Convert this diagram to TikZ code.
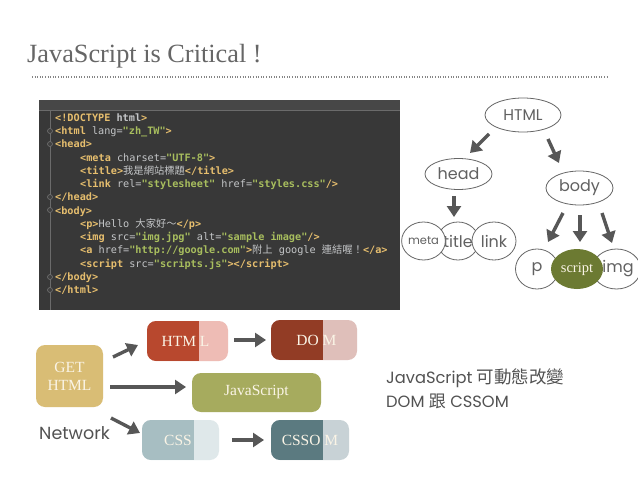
\documentclass[tikz,border=0pt]{standalone}
\usepackage{fontspec}
\usetikzlibrary{shapes.geometric,arrows.meta,calc}
\setmainfont{Liberation Serif}
\newfontfamily\geo{Poppins}
\newfontfamily\codef{DejaVu Sans Mono}
\newfontfamily\cjk{Noto Sans CJK TC}
\newcommand\pxs[1]{\fontsize{#1}{#1}\selectfont}
\definecolor{tagc}{HTML}{E6BE6E}
\definecolor{valc}{HTML}{A8BE5E}
\definecolor{txtc}{HTML}{C4C6C8}
\definecolor{olive}{RGB}{108,122,50}
\definecolor{getc}{RGB}{217,189,117}
\definecolor{htmD}{RGB}{184,72,46}
\definecolor{htmL}{RGB}{238,188,181}
\definecolor{domD}{RGB}{146,60,37}
\definecolor{domL}{RGB}{223,191,186}
\definecolor{jsc}{RGB}{166,171,94}
\definecolor{cssD}{RGB}{167,190,194}
\definecolor{cssL}{RGB}{223,232,234}
\definecolor{comD}{RGB}{91,122,128}
\definecolor{comL}{RGB}{200,210,214}
\definecolor{lbl}{RGB}{250,244,230}
\newcommand\tg[1]{\textcolor{tagc}{\bfseries #1}}
\newcommand\vl[1]{\textcolor{valc}{\bfseries #1}}
\newcommand\zh[1]{{\cjk\pxs{10.3}#1}}
\tikzset{
  arr/.style={draw=black!66,line width=3.4pt,-{Triangle[length=11pt,width=14pt]}},
  treenode/.style={ellipse,draw=black!60,line width=0.8pt,fill=white,inner sep=0pt,text=black!62,font=\geo\pxs{15.5}},
  box/.style={rounded corners=9pt,inner sep=0pt,text=lbl,font=\pxs{15.5},align=center},
  split/.style n args={2}{path picture={\fill[#2,sharp corners] (path picture bounding box.north west) rectangle ($(path picture bounding box.south west)+(#1,0)$);}},
  codeline/.style={anchor=base west,inner sep=0pt,text=txtc,font=\codef\pxs{10.2}},
  fold/.style={circle,draw=black!55,line width=0.6pt,fill=black!75,minimum size=5pt,inner sep=0pt},
}
\begin{document}
\begin{tikzpicture}[x=1pt,y=-1pt]
\useasboundingbox[fill=white] (0,0) rectangle (638,479);
% title
\node[anchor=base west,inner sep=0pt,text=black!60,font=\pxs{26.3}] (ttl) at (27,62.5) {JavaScript is Critical !};
\coordinate (ruleA) at (32,77);
\coordinate (ruleB) at (607,77);
\draw[black!48,line width=1.1pt,dash pattern=on 1pt off 1.6pt] (ruleA) -- (ruleB);
% code panel
\fill[black!78] (39,100) rectangle (400,310);
\fill[black!72] (39,100) rectangle (400,110);
\draw[black!58,line width=0.6pt] (39,110.5) -- (400,110.5);
\draw[black!58,line width=0.8pt] (50,110.5) -- (50,310);
\node[fold] (f1) at (50,131) {};
\node[fold] (f2) at (50,144) {};
\node[fold] (f3) at (50,197) {};
\node[fold] (f4) at (50,210) {};
\node[fold] (f5) at (50,277) {};
\node[fold] (f6) at (50,290) {};
\node[codeline] (c1) at (55,121) {\tg{<!DOCTYPE} \textcolor{txtc}{\bfseries html}\tg{>}};
\node[codeline] (c2) at (55,134.5) {\tg{<html} lang=\vl{"zh\_TW"}\tg{>}};
\node[codeline] (c3) at (55,147.7) {\tg{<head>}};
\node[codeline] (c4) at (80,161) {\tg{<meta} charset=\vl{"UTF-8"}\tg{>}};
\node[codeline] (c5) at (80,174.2) {\tg{<title>}\zh{我是網站標題}\tg{</title>}};
\node[codeline] (c6) at (80,187.5) {\tg{<link} rel=\vl{"stylesheet"} href=\vl{"styles.css"}\tg{/>}};
\node[codeline] (c7) at (55,200.7) {\tg{</head>}};
\node[codeline] (c8) at (55,214) {\tg{<body>}};
\node[codeline] (c9) at (80,227.2) {\tg{<p>}Hello \zh{大家好～}\tg{</p>}};
\node[codeline] (c10) at (80,240.5) {\tg{<img} src=\vl{"img.jpg"} alt=\vl{"sample image"}\tg{/>}};
\node[codeline] (c11) at (80,253.7) {\tg{<a} href=\vl{"http://google.com"}\tg{>}\zh{附上} google \zh{連結喔！}\tg{</a>}};
\node[codeline] (c12) at (80,267) {\tg{<script} src=\vl{"scripts.js"}\tg{></script>}};
\node[codeline] (c13) at (55,280.2) {\tg{</body>}};
\node[codeline] (c14) at (55,293.5) {\tg{</html>}};
% tree
\node[treenode,minimum width=76pt,minimum height=34pt] (html) at (523,115) {HTML};
\node[treenode,minimum width=67pt,minimum height=31pt,font=\geo\pxs{16}] (head) at (458.5,174) {head};
\node[treenode,minimum width=67pt,minimum height=34pt,font=\geo\pxs{16}] (body) at (579.5,188) {body};
\node[treenode,minimum width=40pt,minimum height=38pt,font=\geo\pxs{16}] (titlen) at (458,241) {title};
\node[treenode,minimum width=43pt,minimum height=38pt,font=\geo\pxs{11.5}] (meta) at (423.5,241) {meta};
\node[treenode,minimum width=44pt,minimum height=38pt,font=\geo\pxs{16}] (link) at (494,241) {link};
\node[treenode,minimum width=43pt,minimum height=40pt,font=\geo\pxs{16}] (p) at (537,269) {p};
\node[treenode,minimum width=43pt,minimum height=40pt,font=\geo\pxs{16}] (img) at (616.5,269) {\kern3pt img};
\node[ellipse,inner sep=0pt,minimum width=52pt,minimum height=40pt,fill=olive,text=lbl,font=\pxs{14.5}] (script) at (577,269) {script};
\draw[arr] ($(html)+(-34,19)$) -- ($(head)+(11.5,-21)$);
\draw[arr] ($(html)+(25,24)$) -- ($(body)+(-20.5,-25)$);
\draw[arr] ($(head)+(-4.5,22)$) -- ($(titlen)+(-4,-24)$);
\draw[arr] ($(body)+(-16.5,25)$) -- ($(p)+(11,-27)$);
\draw[arr] ($(body)+(0.5,27)$) -- ($(script)+(3,-27)$);
\draw[arr] ($(body)+(22.5,25)$) -- ($(img)+(-4.5,-26)$);
% pipeline
\node[box,minimum width=67pt,minimum height=62pt,fill=getc] (get) at (69.5,376) {GET\\[2.5pt]HTML};
\node[box,minimum width=81pt,minimum height=40pt,fill=htmL,split={52pt}{htmD}] (htmlb) at (187.5,341) {\kern-4pt HTM L};
\node[box,minimum width=86pt,minimum height=40pt,fill=domL,split={52pt}{domD}] (dom) at (314,340) {\kern5pt DO M};
\node[box,minimum width=129pt,minimum height=39pt,fill=jsc] (js) at (256.5,392.5) {JavaScript};
\node[box,minimum width=77pt,minimum height=40pt,fill=cssL,split={52pt}{cssD}] (css) at (180.5,440) {\kern-5pt CSS};
\node[box,minimum width=78pt,minimum height=40pt,fill=comL,split={52pt}{comD}] (cssom) at (310,440) {CSSO M};
\draw[arr] ($(get)+(43.5,-19)$) -- ($(htmlb)+(-49.5,4)$);
\draw[arr] ($(get)+(40.5,11)$) -- ($(js)+(-70.5,-5.5)$);
\draw[arr] ($(get)+(41.5,42)$) -- ($(css)+(-40.5,-7)$);
\draw[arr] ($(htmlb)+(46.5,-1)$) -- ($(dom)+(-48,0)$);
\draw[arr] ($(css)+(51.5,0)$) -- ($(cssom)+(-46,0)$);
\node[anchor=base west,inner sep=0pt,text=black!68,font=\geo\pxs{17.5}] (net) at (39,439) {Network};
\node[anchor=north west,inner sep=0pt,text=black!68,font=\geo\pxs{16.3},align=left] (note) at (386,369) {JavaScript {\cjk\pxs{17.5}可動態改變}\\[5pt]DOM {\cjk\pxs{17}跟} CSSOM};
\end{tikzpicture}
\end{document}
